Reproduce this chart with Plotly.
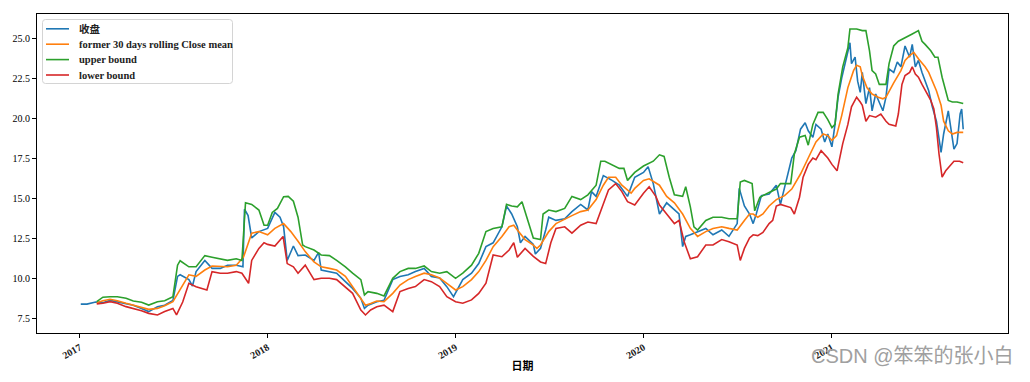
import plotly.graph_objects as go

# ---------------- data ----------------
close_dates = [
    "2017-01-03","2017-01-15","2017-02-01","2017-02-15","2017-03-01","2017-03-15","2017-04-01","2017-04-15",
    "2017-05-01","2017-05-15","2017-06-01","2017-06-15","2017-07-01","2017-07-10","2017-07-15","2017-08-01",
    "2017-08-08","2017-08-15","2017-09-01","2017-09-15","2017-10-01","2017-10-15","2017-11-01","2017-11-14",
    "2017-11-17","2017-11-24","2017-12-01","2017-12-15","2018-01-01","2018-01-15","2018-01-25","2018-02-01",
    "2018-02-08","2018-02-20","2018-03-01","2018-03-15","2018-04-01","2018-04-10","2018-04-15","2018-05-01",
    "2018-05-15","2018-06-01","2018-06-15","2018-07-01","2018-07-08","2018-07-15","2018-08-01","2018-08-15",
    "2018-09-01","2018-09-15","2018-10-01","2018-10-15","2018-11-01","2018-11-15","2018-12-01","2018-12-15",
    "2018-12-28","2019-01-15","2019-02-01","2019-02-15","2019-03-01","2019-03-15","2019-04-01","2019-04-10",
    "2019-04-20","2019-05-01","2019-05-07","2019-05-16","2019-06-01","2019-06-05","2019-06-15","2019-06-25",
    "2019-07-01","2019-07-15","2019-08-01","2019-08-15","2019-09-01","2019-09-15","2019-09-22","2019-10-01",
    "2019-10-15","2019-11-01","2019-11-15","2019-12-01","2019-12-15","2020-01-01","2020-01-10","2020-01-20",
    "2020-02-01","2020-02-15","2020-03-01","2020-03-10","2020-03-17","2020-03-23","2020-04-01","2020-04-15",
    "2020-05-01","2020-05-15","2020-06-01","2020-06-15","2020-07-01","2020-07-05","2020-07-15","2020-07-25",
    "2020-08-01","2020-08-07","2020-08-17","2020-09-01","2020-09-15","2020-09-23","2020-10-01","2020-10-15",
    "2020-10-23","2020-11-01","2020-11-10","2020-11-16","2020-11-25","2020-12-01","2020-12-11","2020-12-18",
    "2020-12-24","2021-01-01","2021-01-07","2021-01-13","2021-01-20","2021-01-26","2021-02-01","2021-02-05",
    "2021-02-08","2021-02-15","2021-02-20","2021-02-25","2021-03-01","2021-03-08","2021-03-15","2021-03-20",
    "2021-03-27","2021-04-03","2021-04-10","2021-04-16","2021-04-22","2021-05-01","2021-05-08","2021-05-15",
    "2021-05-23","2021-06-01","2021-06-06","2021-06-12","2021-06-18","2021-06-25","2021-07-01","2021-07-08",
    "2021-07-15","2021-07-23","2021-08-01","2021-08-06","2021-08-15","2021-08-20","2021-08-26","2021-09-01",
    "2021-09-07","2021-09-10","2021-09-13",
]
close_values = [
    8.37, 8.37, 8.50, 8.46, 8.60, 8.52, 8.42, 8.30,
    8.10, 7.90, 8.20, 8.30, 8.60, 10.10, 10.20, 9.90,
    9.50, 10.40, 11.10, 10.60, 10.60, 10.80, 10.80, 10.70,
    14.30, 13.90, 12.50, 12.90, 13.10, 14.10, 13.80, 13.20,
    11.10, 12.00, 11.40, 11.44, 11.10, 11.60, 10.50, 10.40,
    10.30, 9.77, 9.35, 8.73, 8.10, 8.30, 8.52, 8.60,
    9.90, 10.10, 10.20, 10.40, 10.60, 10.10, 10.00, 9.46,
    8.83, 9.90, 10.30, 10.90, 11.96, 12.20, 13.20, 14.50,
    14.00, 13.20, 12.20, 12.60, 12.10, 11.50, 11.85, 13.00,
    13.80, 13.60, 13.70, 14.15, 14.60, 14.25, 15.40, 15.10,
    16.40, 16.10, 15.80, 15.10, 16.30, 16.60, 16.96, 15.90,
    14.00, 14.70, 14.25, 14.00, 11.96, 12.60, 12.70, 12.90,
    13.10, 12.70, 13.00, 12.60, 13.40, 15.60, 14.50, 14.00,
    13.40, 14.00, 15.15, 15.25, 15.80, 14.60, 15.60, 17.50,
    17.96, 19.30, 19.70, 19.20, 18.80, 19.60, 19.30, 18.50,
    19.00, 18.20, 19.60, 21.30, 22.50, 23.40, 24.20, 24.70,
    23.40, 23.80, 22.30, 21.60, 22.85, 20.90, 21.90, 20.45,
    21.50, 21.00, 20.45, 21.30, 23.06, 22.85, 23.50, 23.20,
    24.50, 23.80, 24.60, 23.20, 23.60, 22.85, 22.30, 21.70,
    20.70, 19.80, 17.85, 19.00, 20.45, 19.40, 18.06, 18.40,
    20.25, 20.56, 19.30,
]

mean_dates = [
    "2017-02-03","2017-02-15","2017-03-01","2017-03-15","2017-04-01","2017-04-15","2017-05-01","2017-05-15",
    "2017-06-01","2017-06-15","2017-07-01","2017-07-15","2017-08-01","2017-08-15","2017-09-01","2017-09-15",
    "2017-10-01","2017-10-15","2017-11-01","2017-11-15","2017-12-01","2017-12-15","2018-01-01","2018-01-15",
    "2018-02-01","2018-02-15","2018-03-01","2018-03-15","2018-04-01","2018-04-15","2018-05-01","2018-05-15",
    "2018-06-01","2018-06-15","2018-07-01","2018-07-10","2018-07-20","2018-08-01","2018-08-15","2018-09-01",
    "2018-09-15","2018-10-01","2018-10-15","2018-11-01","2018-11-15","2018-12-01","2018-12-15","2019-01-01",
    "2019-01-15","2019-02-01","2019-02-15","2019-03-01","2019-03-15","2019-04-01","2019-04-15","2019-04-24",
    "2019-05-01","2019-05-16","2019-06-01","2019-06-08","2019-06-15","2019-07-01","2019-07-15","2019-08-01",
    "2019-08-15","2019-09-01","2019-09-15","2019-10-01","2019-10-15","2019-10-25","2019-11-08","2019-11-20",
    "2019-12-08","2019-12-15","2020-01-01","2020-01-12","2020-02-01","2020-02-15","2020-03-01","2020-03-17",
    "2020-04-01","2020-04-15","2020-05-01","2020-05-15","2020-06-01","2020-06-15","2020-07-01","2020-07-15",
    "2020-07-25","2020-08-01","2020-08-10","2020-08-20","2020-09-01","2020-09-15","2020-10-01","2020-10-15",
    "2020-11-01","2020-11-16","2020-12-01","2020-12-15","2020-12-24","2021-01-01","2021-01-10","2021-01-20",
    "2021-02-01","2021-02-12","2021-02-18","2021-02-25","2021-03-01","2021-03-10","2021-03-20","2021-04-01",
    "2021-04-10","2021-04-16","2021-04-24","2021-05-01","2021-05-15","2021-05-23","2021-06-01","2021-06-09",
    "2021-06-18","2021-07-01","2021-07-08","2021-07-15","2021-07-23","2021-08-01","2021-08-06","2021-08-15",
    "2021-08-23","2021-09-01","2021-09-13",
]
mean_values = [
    8.46, 8.58, 8.67, 8.58, 8.42, 8.29, 8.17, 8.04,
    8.10, 8.27, 8.52, 9.25, 10.20, 10.10, 10.50, 10.75,
    10.70, 10.70, 10.80, 11.30, 12.80, 12.90, 12.70, 13.10,
    13.40, 12.90, 12.30, 11.65, 11.00, 10.70, 10.60, 10.50,
    10.10, 9.46, 8.73, 8.30, 8.40, 8.56, 8.52, 9.04,
    9.56, 9.90, 10.10, 10.30, 10.20, 10.00, 9.67, 9.25,
    9.46, 9.90, 10.40, 11.10, 11.96, 12.60, 13.20, 13.30,
    13.00, 12.40, 12.06, 11.85, 12.06, 12.90, 13.40, 13.70,
    13.90, 14.15, 14.25, 14.90, 15.80, 16.30, 16.30, 15.80,
    15.30, 15.60, 16.10, 16.20, 15.80, 15.10, 14.70, 14.00,
    13.10, 12.60, 12.90, 13.10, 13.20, 13.10, 13.00, 13.60,
    14.00, 14.00, 13.80, 14.00, 14.50, 14.90, 15.15, 15.56,
    16.50, 17.50, 18.50, 19.00, 18.90, 18.60, 18.90, 20.15,
    21.90, 22.96, 23.30, 23.20, 22.65, 21.90, 21.50, 21.30,
    21.20, 21.30, 21.80, 22.20, 22.96, 23.60, 23.90, 24.10,
    23.70, 23.20, 22.85, 22.30, 21.70, 20.80, 19.80, 19.20,
    19.00, 19.10, 19.10,
]

upper_dates = [
    "2017-02-03","2017-02-15","2017-03-01","2017-03-15","2017-04-01","2017-04-15","2017-05-01","2017-05-15",
    "2017-06-01","2017-06-15","2017-07-01","2017-07-10","2017-07-15","2017-08-01","2017-08-15","2017-09-01",
    "2017-09-15","2017-10-01","2017-10-15","2017-11-01","2017-11-12","2017-11-19","2017-12-01","2017-12-15",
    "2017-12-25","2018-01-01","2018-01-10","2018-01-20","2018-02-01","2018-02-10","2018-02-20","2018-03-01",
    "2018-03-10","2018-03-15","2018-04-01","2018-04-15","2018-05-01","2018-05-15","2018-06-01","2018-06-15",
    "2018-07-01","2018-07-08","2018-07-15","2018-08-01","2018-08-15","2018-09-01","2018-09-15","2018-10-01",
    "2018-10-15","2018-11-01","2018-11-15","2018-12-01","2018-12-15","2019-01-01","2019-01-15","2019-02-01",
    "2019-02-15","2019-03-01","2019-03-15","2019-04-01","2019-04-10","2019-04-20","2019-05-01","2019-05-10",
    "2019-05-20","2019-06-01","2019-06-15","2019-06-20","2019-07-01","2019-07-15","2019-08-01","2019-08-15",
    "2019-09-01","2019-09-15","2019-10-01","2019-10-10","2019-10-18","2019-11-01","2019-11-15","2019-11-24",
    "2019-12-01","2019-12-15","2020-01-01","2020-01-20","2020-02-01","2020-02-10","2020-02-20","2020-03-01",
    "2020-03-17","2020-03-23","2020-04-01","2020-04-08","2020-04-15","2020-05-01","2020-05-15","2020-06-01",
    "2020-06-15","2020-07-01","2020-07-07","2020-07-15","2020-07-30","2020-08-04","2020-08-14","2020-09-01",
    "2020-09-15","2020-09-23","2020-10-13","2020-10-20","2020-10-30","2020-11-10","2020-11-16","2020-11-25",
    "2020-12-05","2020-12-15","2020-12-24","2021-01-01","2021-01-07","2021-01-13","2021-01-22","2021-02-01",
    "2021-02-05","2021-02-18","2021-03-01","2021-03-08","2021-03-15","2021-03-20","2021-03-27","2021-04-03",
    "2021-04-16","2021-04-22","2021-05-01","2021-05-10","2021-05-23","2021-06-06","2021-06-18","2021-06-25",
    "2021-07-01","2021-07-12","2021-07-20","2021-07-26","2021-08-03","2021-08-15","2021-08-23","2021-09-01",
    "2021-09-13",
]
upper_values = [
    8.52, 8.80, 8.83, 8.83, 8.73, 8.56, 8.48, 8.31,
    8.52, 8.58, 8.83, 10.80, 11.08, 10.70, 10.70, 11.40,
    11.30, 11.20, 11.10, 11.20, 11.10, 14.70, 14.60, 14.25,
    13.30, 13.30, 14.10, 14.35, 15.08, 15.10, 14.80, 13.80,
    12.06, 11.96, 11.75, 11.44, 11.40, 11.10, 10.70, 10.30,
    9.90, 8.94, 9.15, 9.04, 8.88, 9.98, 10.40, 10.60,
    10.60, 10.75, 10.40, 10.30, 10.40, 9.98, 10.30, 10.80,
    11.54, 12.90, 13.10, 13.20, 14.60, 14.50, 14.45, 14.77,
    13.80, 12.50, 12.40, 14.00, 14.25, 14.15, 14.35, 15.10,
    14.90, 15.20, 15.80, 17.30, 17.30, 17.06, 16.85, 16.85,
    16.10, 16.60, 17.00, 17.30, 17.70, 17.60, 16.30, 15.20,
    15.10, 15.70, 14.45, 13.20, 13.00, 13.60, 13.80, 13.80,
    13.70, 13.70, 16.00, 16.10, 15.90, 14.20, 15.05, 15.35,
    15.56, 15.90, 15.90, 17.75, 18.80, 18.90, 18.30, 19.60,
    20.35, 20.35, 19.90, 19.40, 19.60, 21.50, 23.20, 24.40,
    25.56, 25.56, 25.46, 25.46, 24.20, 22.96, 22.75, 22.10,
    22.10, 23.40, 24.50, 24.80, 25.00, 25.25, 25.46, 24.80,
    24.60, 24.20, 23.80, 23.80, 22.55, 21.10, 21.00, 21.00,
    20.90,
]

lower_dates = [
    "2017-02-03","2017-02-15","2017-03-01","2017-03-15","2017-04-01","2017-04-15","2017-05-01","2017-05-15",
    "2017-06-01","2017-06-15","2017-07-01","2017-07-08","2017-07-20","2017-08-01","2017-08-15","2017-09-05",
    "2017-09-15","2017-10-01","2017-10-15","2017-11-01","2017-11-12","2017-11-25","2017-12-01","2017-12-15",
    "2017-12-25","2018-01-01","2018-01-15","2018-01-31","2018-02-08","2018-02-20","2018-03-01","2018-03-15",
    "2018-04-01","2018-04-15","2018-05-01","2018-05-15","2018-06-01","2018-06-15","2018-07-01","2018-07-10",
    "2018-07-20","2018-08-01","2018-08-15","2018-09-01","2018-09-15","2018-10-01","2018-10-15","2018-11-01",
    "2018-11-15","2018-12-01","2018-12-15","2019-01-01","2019-01-15","2019-02-01","2019-02-15","2019-03-01",
    "2019-03-15","2019-04-01","2019-04-15","2019-04-24","2019-05-01","2019-05-16","2019-06-01","2019-06-15",
    "2019-06-25","2019-07-05","2019-07-15","2019-08-01","2019-08-15","2019-09-01","2019-09-15","2019-10-01",
    "2019-10-13","2019-10-25","2019-11-08","2019-11-20","2019-12-01","2019-12-15","2020-01-01","2020-01-12",
    "2020-01-25","2020-02-01","2020-02-15","2020-03-01","2020-03-10","2020-03-20","2020-04-01","2020-04-15",
    "2020-05-01","2020-05-15","2020-06-01","2020-06-15","2020-07-01","2020-07-07","2020-07-15","2020-07-25",
    "2020-08-01","2020-08-10","2020-08-20","2020-09-01","2020-09-08","2020-09-15","2020-09-23","2020-10-01",
    "2020-10-13","2020-10-20","2020-10-30","2020-11-06","2020-11-16","2020-11-25","2020-12-01","2020-12-11",
    "2020-12-24","2021-01-01","2021-01-11","2021-01-22","2021-02-01","2021-02-08","2021-02-18","2021-02-25",
    "2021-03-01","2021-03-08","2021-03-15","2021-03-27","2021-04-06","2021-04-16","2021-04-22","2021-05-05",
    "2021-05-10","2021-05-17","2021-05-23","2021-06-01","2021-06-06","2021-06-12","2021-06-18","2021-06-25",
    "2021-07-02","2021-07-12","2021-07-18","2021-07-23","2021-07-28","2021-08-03","2021-08-10","2021-08-20",
    "2021-08-26","2021-09-06","2021-09-13",
]
lower_values = [
    8.38, 8.42, 8.52, 8.42, 8.21, 8.10, 7.96, 7.79,
    7.69, 7.90, 8.10, 7.69, 8.50, 9.67, 9.46, 9.25,
    10.40, 10.30, 10.30, 10.40, 10.30, 9.67, 11.10, 11.85,
    12.20, 12.10, 12.00, 12.60, 10.90, 10.70, 10.30, 10.80,
    9.90, 9.98, 9.98, 9.90, 9.46, 9.04, 8.00, 7.69,
    8.00, 8.20, 8.30, 7.90, 9.15, 9.35, 9.46, 9.90,
    9.77, 9.46, 8.83, 8.52, 8.42, 8.63, 9.04, 9.67,
    11.44, 11.33, 11.75, 12.20, 11.30, 11.85, 11.35, 11.00,
    10.90, 12.20, 13.10, 13.20, 12.80, 13.30, 13.50, 13.40,
    14.45, 15.50, 15.90, 15.40, 14.77, 14.56, 15.30, 15.70,
    15.10, 14.56, 14.00, 13.40, 13.60, 12.27, 11.20, 11.33,
    12.06, 12.06, 12.40, 12.27, 12.06, 11.10, 11.85, 12.50,
    12.70, 12.65, 12.85, 13.40, 13.60, 14.50, 14.60, 14.50,
    14.40, 14.00, 15.05, 16.30, 17.10, 17.50, 17.40, 17.96,
    17.50, 17.10, 16.70, 18.40, 19.60, 20.70, 21.30, 21.00,
    20.80, 19.80, 20.15, 20.05, 20.25, 19.80, 19.60, 19.50,
    20.25, 22.10, 22.65, 22.85, 23.20, 22.75, 22.55, 22.10,
    21.70, 21.10, 20.56, 19.40, 17.75, 16.30, 16.70, 17.10,
    17.30, 17.30, 17.20,
]

series_names = ["收盘", "former 30 days rolling Close mean", "upper bound", "lower bound"]
series_colors = ["#1f77b4", "#ff7f0e", "#2ca02c", "#d62728"]
y_ticks = [7.5, 10.0, 12.5, 15.0, 17.5, 20.0, 22.5, 25.0]
x_tick_dates = ["2017-01-01", "2018-01-01", "2019-01-01", "2020-01-01", "2021-01-01"]
x_tick_labels = ["2017", "2018", "2019", "2020", "2021"]

# ---------------- figure ----------------
W, H = 1030, 382
ML, MR, MT, MB = 37, 22, 14, 49
PW, PH = W - ML - MR, H - MT - MB
SERIF = "Liberation Serif, Noto Sans CJK SC, serif"


def px_x(px):  # page pixel -> paper x
    return (px - ML) / PW


def px_y(py):  # page pixel -> paper y
    return (H - MB - py) / PH


fig = go.Figure()
for (xs, ys), name, color in zip(
    [(close_dates, close_values), (mean_dates, mean_values),
     (upper_dates, upper_values), (lower_dates, lower_values)],
    series_names, series_colors,
):
    fig.add_trace(go.Scatter(x=xs, y=ys, mode="lines", name=name,
                             line=dict(color=color, width=1.6)))

# legend drawn as a matplotlib-style box (compact rows)
shapes, annotations = [], []
bx0, bx1, by0, by1, r = 42.5, 232.5, 19.5, 83.5, 3.0
path = (
    f"M {px_x(bx0 + r)} {px_y(by0)} L {px_x(bx1 - r)} {px_y(by0)} "
    f"Q {px_x(bx1)} {px_y(by0)} {px_x(bx1)} {px_y(by0 + r)} "
    f"L {px_x(bx1)} {px_y(by1 - r)} Q {px_x(bx1)} {px_y(by1)} {px_x(bx1 - r)} {px_y(by1)} "
    f"L {px_x(bx0 + r)} {px_y(by1)} Q {px_x(bx0)} {px_y(by1)} {px_x(bx0)} {px_y(by1 - r)} "
    f"L {px_x(bx0)} {px_y(by0 + r)} Q {px_x(bx0)} {px_y(by0)} {px_x(bx0 + r)} {px_y(by0)} Z"
)
shapes.append(dict(type="path", xref="paper", yref="paper", path=path,
                   fillcolor="rgba(255,255,255,0.85)", line=dict(color="#d4d4d4", width=1)))
row_y = [28.8, 44.2, 59.6, 75.0]
for name, color, ry in zip(series_names, series_colors, row_y):
    shapes.append(dict(type="line", xref="paper", yref="paper",
                       x0=px_x(46), x1=px_x(69), y0=px_y(ry), y1=px_y(ry),
                       line=dict(color=color, width=1.6)))
    annotations.append(dict(text=name, xref="paper", yref="paper",
                            x=px_x(76.5), y=px_y(ry), xanchor="left", yanchor="middle",
                            showarrow=False,
                            font=dict(family=SERIF, size=10.5, weight="bold", color="#222")))

annotations.append(dict(
    text="CSDN @笨笨的张小白", xref="paper", yref="paper",
    x=px_x(1016), y=px_y(356), xanchor="right", yanchor="middle", showarrow=False,
    font=dict(family="Liberation Sans, Noto Sans CJK SC, sans-serif", size=20, color="#a0a0a0"),
))

fig.update_layout(
    width=W, height=H,
    margin=dict(l=ML, r=MR, t=MT, b=MB, autoexpand=False),
    paper_bgcolor="white", plot_bgcolor="white",
    font=dict(family=SERIF, size=10, color="black"),
    showlegend=False,
    shapes=shapes, annotations=annotations,
)
fig.update_xaxes(
    type="date", range=["2016-10-10", "2021-12-09"],
    tickvals=x_tick_dates, ticktext=x_tick_labels, tickangle=-30,
    ticks="outside", ticklen=4, tickwidth=1, tickcolor="black",
    showline=True, linecolor="black", linewidth=1, mirror=True,
    showgrid=False, zeroline=False, automargin=False,
    tickfont=dict(family=SERIF, size=10, weight="bold", color="#222"),
    title=dict(text="日期", font=dict(family=SERIF, size=11, weight="bold"), standoff=2),
)
fig.update_yaxes(
    range=[6.5625, 26.5], tickvals=y_ticks, tickformat=".1f",
    ticks="outside", ticklen=4, tickwidth=1, tickcolor="black",
    showline=True, linecolor="black", linewidth=1, mirror=True,
    showgrid=False, zeroline=False, automargin=False,
    tickfont=dict(family=SERIF, size=10),
)

fig.write_html("out.html", config={"displayModeBar": False},
               post_script="document.body.style.margin='0';")
